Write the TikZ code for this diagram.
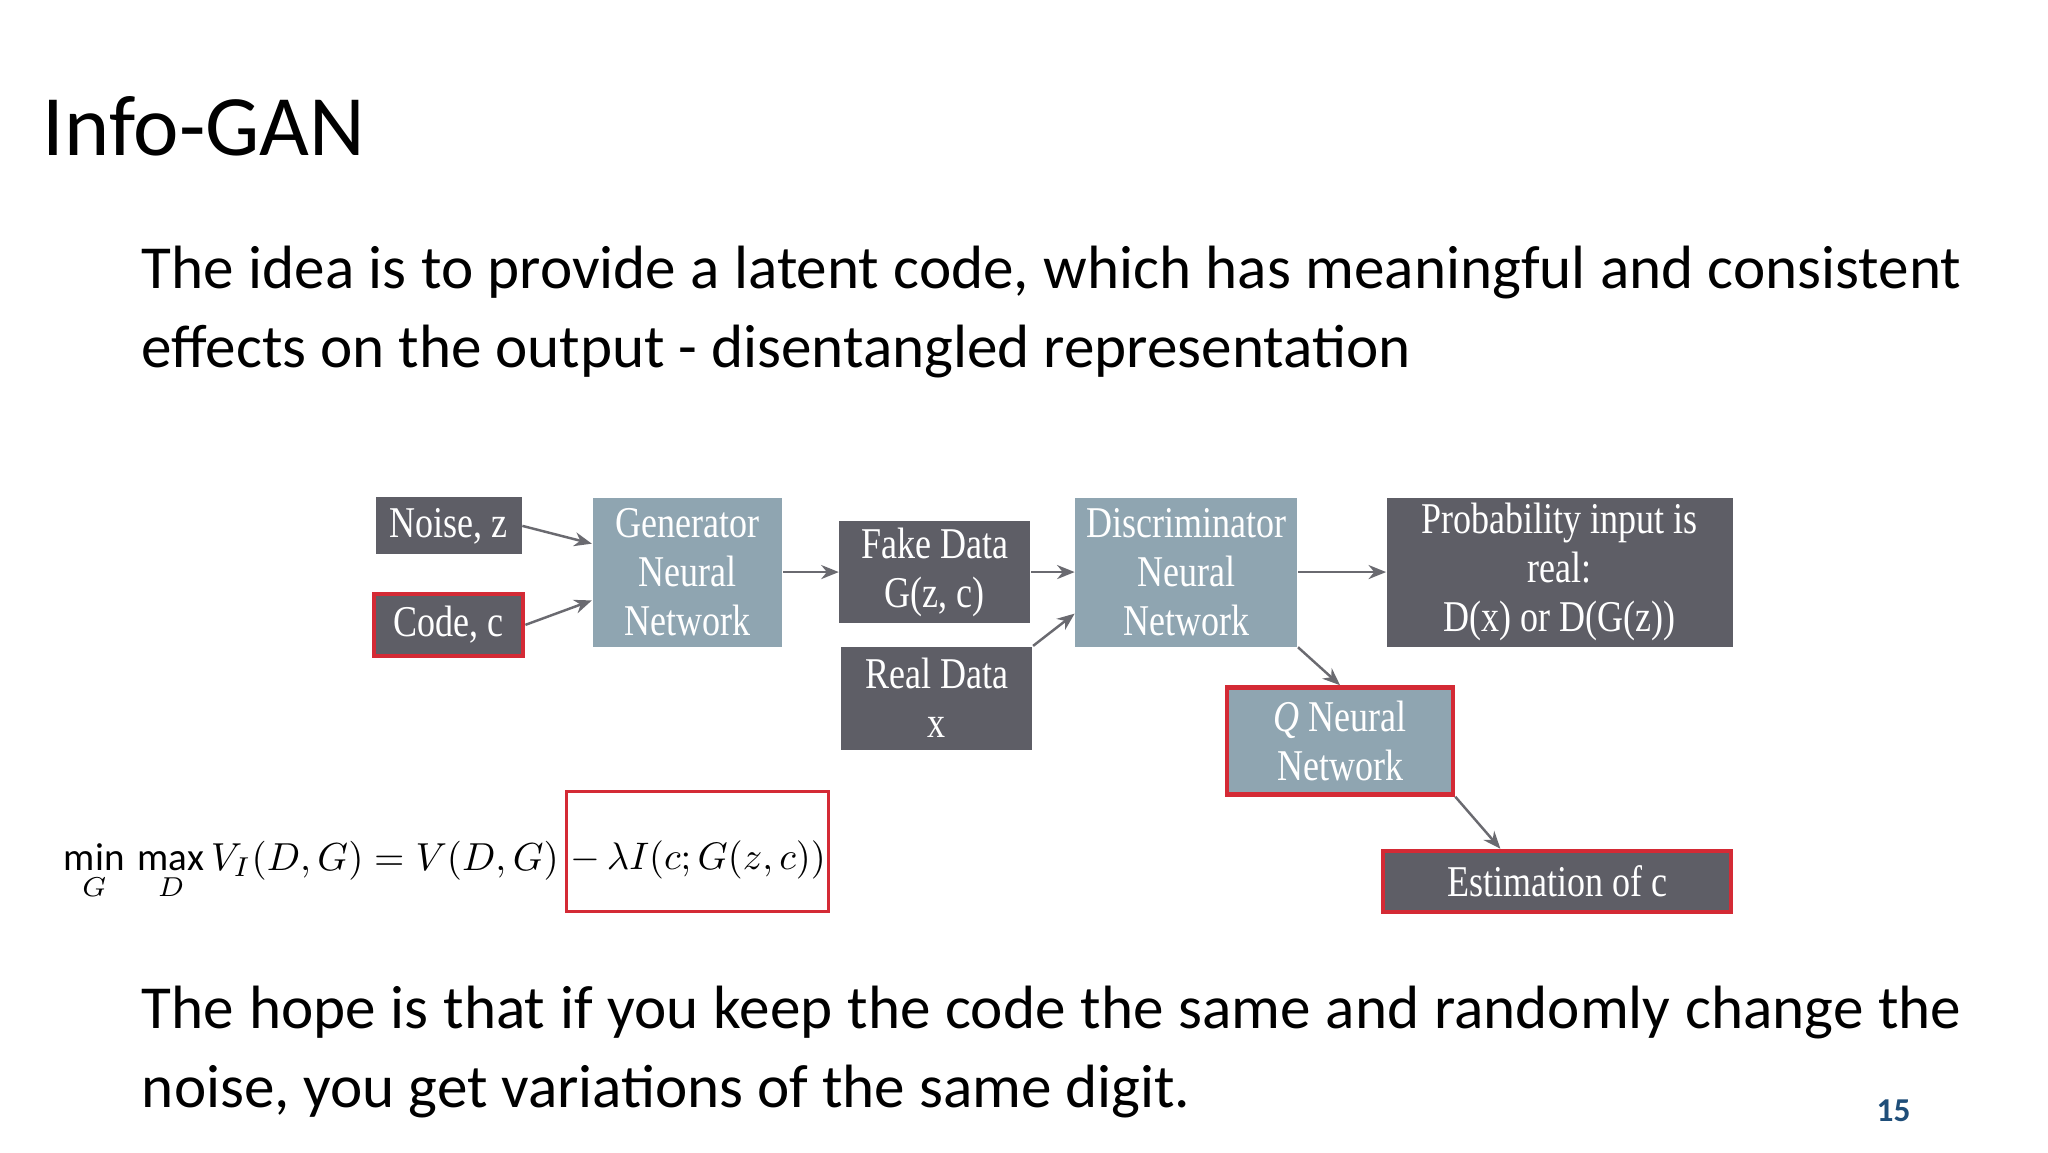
\documentclass[tikz,border=0pt]{standalone}
\usepackage{fontspec}
\usepackage{graphicx}
\setmainfont{Carlito}
\newfontfamily\diag[FakeStretch=0.82]{Liberation Serif}
\usetikzlibrary{arrows.meta}
\definecolor{dk}{HTML}{5E5E66}
\definecolor{lt}{HTML}{8FA5B1}
\definecolor{rd}{HTML}{D42A35}
\definecolor{ar}{HTML}{6A6A70}
\definecolor{pn}{HTML}{1F4E79}
\begin{document}
\begin{tikzpicture}[x=0.013196cm,y=-0.013196cm,
  bx/.style={draw=none,inner sep=0,align=center,text=white,font=\diag\fontsize{12.5}{14}\selectfont},
  dkbox/.style={bx,fill=dk},
  ltbox/.style={bx,fill=lt},
  redb/.style={draw=rd,line width=1.3pt},
  conn/.style={ar,line width=0.7pt,-{Stealth[length=5pt,width=4pt]}}]
\useasboundingbox (0,0) rectangle (1552,873);
\fill[white] (0,0) rectangle (1552,873);
\node[anchor=west,inner sep=0,font=\fontsize{24.5}{28}\selectfont] (title) at (32,96) {Info-GAN};
\node[anchor=north west,align=justify,text width=18.2cm,inner sep=0,font=\fontsize{17.4}{22.5}\selectfont] (t1) at (107,186)
 {The idea is to provide a latent code, which has meaningful and consistent effects on the output - disentangled representation};
\node[anchor=north west,align=justify,text width=18.2cm,inner sep=0,font=\fontsize{17.4}{22.5}\selectfont] (t2) at (107,747)
 {The hope is that if you keep the code the same and randomly change the noise, you get variations of the same digit.};
\node[font=\bfseries\fontsize{9.5}{11}\selectfont,text=pn] (pg) at (1435,842) {15};

\node[dkbox,minimum width=1.46cm,minimum height=0.57cm] (noise) at (340,398.5) {Noise, z};
\node[dkbox,redb,minimum width=1.49cm,minimum height=0.62cm] (code) at (340,473.5) {Code, c};
\node[ltbox,minimum width=1.9cm,minimum height=1.49cm] (gen) at (521,433.5) {Generator\\Neural\\Network};
\node[dkbox,minimum width=1.91cm,minimum height=1.02cm] (fake) at (708.5,433.5) {Fake Data\\G(z, c)};
\node[dkbox,minimum width=1.91cm,minimum height=1.03cm] (real) at (710,529) {Real Data\\x};
\node[ltbox,minimum width=2.22cm,minimum height=1.49cm] (disc) at (899,433.5) {Discriminator\\Neural\\Network};
\node[dkbox,minimum width=3.46cm,minimum height=1.49cm] (prob) at (1182,433.5) {Probability input is\\real:\\D(x) or D(G(z))};
\node[ltbox,redb,minimum width=2.26cm,minimum height=1.07cm] (q) at (1015.5,561.5) {\textit{Q} Neural\\Network};
\node[dkbox,redb,minimum width=3.48cm,minimum height=0.61cm] (est) at (1180,668) {Estimation of c};

\draw[conn] (noise.east) -- (gen.west |- 0,412);
\draw[conn] (code.east) -- (gen.west |- 0,455);
\draw[conn] (gen) -- (fake);
\draw[conn] (fake) -- (disc);
\draw[conn] (real.north east) -- (disc.west |- 0,465);
\draw[conn] (disc) -- (prob);
\draw[conn] (disc.south east) -- (q.north);
\draw[conn] (q.south east) -- (est.north -| 1137,0);

\node[anchor=east,inner sep=0] (eqa) at (424,660)
 {\resizebox{4.95cm}{!}{$\min\limits_{G}\,\max\limits_{D} V_I(D,G) = V(D,G)$}};
\node[anchor=west,inner sep=0] (eqb) at (432,652)
 {\resizebox{2.55cm}{!}{$-\,\lambda I(c;G(z,c))$}};
\draw[rd,line width=0.9pt] (429,600) rectangle (628,691);
\end{tikzpicture}
\end{document}
